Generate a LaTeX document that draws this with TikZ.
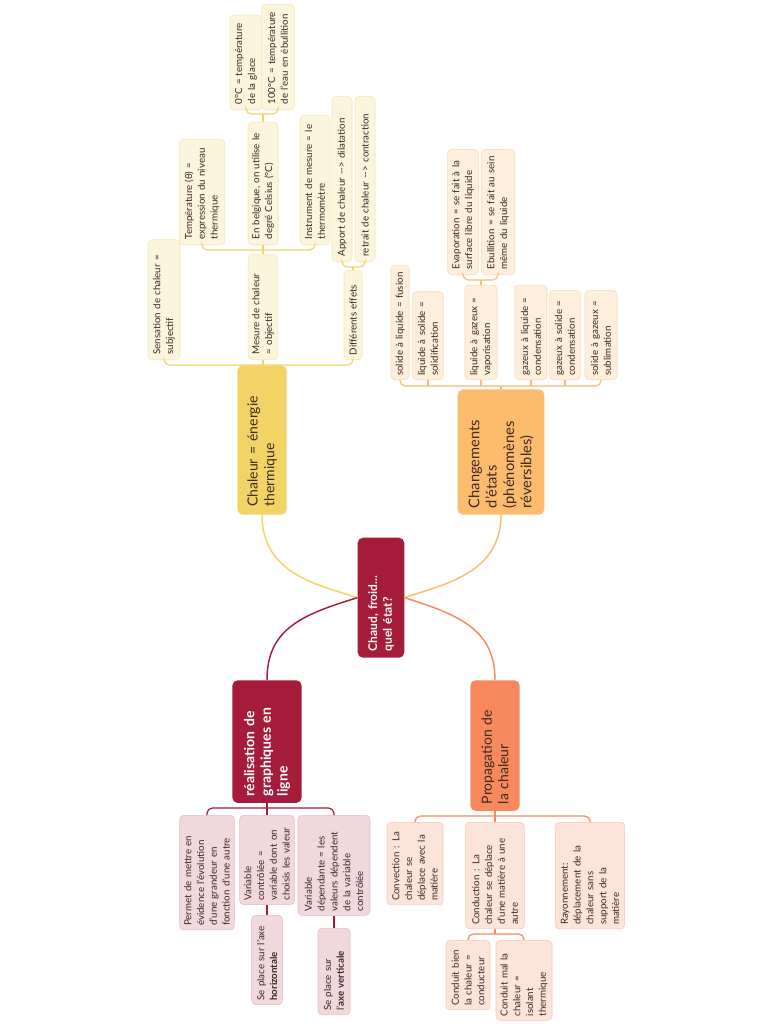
\documentclass[tikz,border=0pt]{standalone}
\usepackage{fontspec}
\setmainfont{Lato}
\definecolor{cyel}{HTML}{F2D466}
\definecolor{cyelL}{HTML}{FBF5DD}
\definecolor{cyelE}{HTML}{F5E6B0}
\definecolor{cor}{HTML}{FDBB6E}
\definecolor{corL}{HTML}{FEEEDC}
\definecolor{corE}{HTML}{FAD9B5}
\definecolor{cred}{HTML}{A41C3A}
\definecolor{credL}{HTML}{F0D8DC}
\definecolor{credE}{HTML}{E6BCC4}
\definecolor{ccor}{HTML}{F8895C}
\definecolor{ccorL}{HTML}{FDE4DA}
\definecolor{ccorE}{HTML}{F8C6B4}
\definecolor{ctxt}{HTML}{3A2A20}
\tikzset{
  x=0.75pt,y=-0.75pt,
  bx/.style={rotate=90,rounded corners=3pt,align=left,inner sep=3pt,
    font=\fontsize{7.3}{9.6}\selectfont,text=ctxt},
  up/.style={bx,anchor=west},
  dn/.style={bx,anchor=east},
  yb/.style={fill=cyelL,draw=cyelE,line width=0.4pt},
  ob/.style={fill=corL,draw=corE,line width=0.4pt},
  rb/.style={fill=credL,draw=credE,line width=0.4pt},
  cb/.style={fill=ccorL,draw=ccorE,line width=0.4pt},
  main/.style={rotate=90,rounded corners=4pt,align=left,inner sep=5pt},
  yl/.style={draw=cyel,line width=0.9pt,rounded corners=4pt},
  ol/.style={draw=cor,line width=0.9pt,rounded corners=4pt},
  rl/.style={draw=cred,line width=0.9pt,rounded corners=4pt},
  cl/.style={draw=ccor,line width=0.9pt,rounded corners=4pt},
}
\begin{document}
\begin{tikzpicture}
\useasboundingbox[fill=white] (0,0) rectangle (768,1024);
% main
\node[main,anchor=west,fill=cred,text=white,minimum width=90pt,minimum height=35pt,text width=80pt,font=\fontsize{9}{11}\selectfont\bfseries] (cen) at (381,658) {Chaud, froid...\\quel état?};
\node[main,anchor=west,fill=cyel,text=ctxt,minimum width=112pt,minimum height=37pt,text width=100pt,font=\fontsize{10.5}{12.5}\selectfont] (chal) at (262,515) {Chaleur = énergie\\thermique};
\node[main,anchor=west,fill=cor,text=ctxt,minimum width=94pt,minimum height=65pt,text width=84pt,font=\fontsize{11}{13}\selectfont] (chg) at (501,515) {Changements\\d'états\\(phénomènes\\réversibles)};
\node[main,anchor=east,fill=cred,text=white,minimum width=90pt,minimum height=52pt,text width=82pt,font=\fontsize{10.5}{12.5}\selectfont\bfseries] (real) at (267,680) {réalisation de\\graphiques en\\ligne};
\node[main,anchor=east,fill=ccor,text=ctxt,minimum width=97pt,minimum height=37pt,text width=88pt,font=\fontsize{10.5}{12.5}\selectfont] (prop) at (495,680) {Propagation de\\la chaleur};
% main connectors
\draw[cyel,line width=1.1pt] (chal.west) .. controls (262,575) and (320,585) .. (cen.north);
\draw[cor,line width=1.1pt] (chg.west) .. controls (501,575) and (440,585) .. (cen.south);
\draw[cred,line width=1.1pt] (cen.north) .. controls (300,615) and (267,630) .. (real.east);
\draw[ccor,line width=1.1pt] (cen.south) .. controls (460,615) and (495,630) .. (prop.east);
% Chaleur children
\node[up,yb,minimum width=90pt,minimum height=24pt,text width=82pt] (sens) at (164,360) {Sensation de chaleur =\\subjectif};
\node[up,yb,minimum width=79pt,minimum height=22pt,text width=71pt] (mes) at (263,360) {Mesure de chaleur\\= objectif};
\node[up,yb,minimum width=67pt,minimum height=13.5pt,text width=60pt] (eff) at (353,360) {Différents effets};
\draw[yl] (sens.west) -- (sens.west|-0,365) -- (eff.west|-0,365) -- (eff.west);
\draw[yl] (mes.west) -- (mes.west|-0,365);
\draw[yl] (chal.east) -- (chal.east|-0,365);
\node[up,yb,minimum width=79pt,minimum height=34pt,text width=71pt] (temp) at (202,245) {Température (θ) =\\expression du niveau\\thermique};
\node[up,yb,minimum width=92pt,minimum height=22.5pt,text width=84pt] (belg) at (263,245) {En belgique, on utilise le\\degré Celsius (°C)};
\node[up,yb,minimum width=97pt,minimum height=22.5pt,text width=89pt] (instr) at (315,245) {Instrument de mesure = le\\thermomètre};
\draw[yl] (temp.west) -- (temp.west|-0,250) -- (instr.west|-0,250) -- (instr.west);
\draw[yl] (belg.west) -- (mes.east);
\node[up,yb,minimum width=71pt,minimum height=24pt,text width=63pt] (zero) at (246,110) {0°C = température\\de la glace};
\node[up,yb,minimum width=79pt,minimum height=25pt,text width=71pt] (cent) at (278,110) {100°C = température\\de l'eau en ébullition};
\draw[yl] (zero.west) -- (zero.west|-0,114) -- (cent.west|-0,114) -- (cent.west);
\draw[yl] (belg.east) -- (belg.east|-0,114);
\node[up,yb,minimum width=124pt,minimum height=15pt,text width=116pt] (app) at (342,262) {Apport de chaleur -{}-> dilatation};
\node[up,yb,minimum width=124pt,minimum height=15pt,text width=116pt] (ret) at (365,262) {retrait de chaleur -{}-> contraction};
\draw[yl] (app.west) -- (app.west|-0,267) -- (ret.west|-0,267) -- (ret.west);
\draw[yl] (eff.east) -- (eff.east|-0,267);
% Changements children
\node[up,ob,minimum width=86pt,minimum height=13.5pt,text width=80pt] (f1) at (400,380) {solide à liquide = fusion};
\node[up,ob,minimum width=66pt,minimum height=23pt,text width=60pt] (f2) at (428,380) {liquide à solide =\\solidification};
\node[up,ob,minimum width=71pt,minimum height=24pt,text width=65pt] (f3) at (481,380) {liquide à gazeux =\\vaporisation};
\node[up,ob,minimum width=71pt,minimum height=24pt,text width=65pt] (f4) at (531,380) {gazeux à liquide =\\condensation};
\node[up,ob,minimum width=67pt,minimum height=23pt,text width=61pt] (f5) at (565,380) {gazeux à solide =\\condensation};
\node[up,ob,minimum width=67pt,minimum height=24pt,text width=61pt] (f6) at (601,380) {solide à gazeux =\\sublimation};
\draw[ol] (f1.west) -- (f1.west|-0,386) -- (f6.west|-0,386) -- (f6.west);
\foreach \n in {f2,f3,f4,f5} \draw[ol] (\n.west) -- (\n.west|-0,386);
\draw[ol] (chg.east) -- (chg.east|-0,386);
\node[up,ob,minimum width=94pt,minimum height=23pt,text width=86pt] (evap) at (463,275) {Evaporation = se fait à la\\surface libre du liquide};
\node[up,ob,minimum width=94pt,minimum height=25pt,text width=86pt] (ebul) at (498,275) {Ebullition = se fait au sein\\même du liquide};
\draw[ol] (evap.west) -- (evap.west|-0,280) -- (ebul.west|-0,280) -- (ebul.west);
\draw[ol] (f3.east) -- (f3.east|-0,280);
% réalisation children
\node[dn,rb,minimum width=86pt,minimum height=41pt,text width=80pt] (perm) at (207,815) {Permet de mettre en\\évidence l'évolution\\d'une grandeur en\\fonction d'une autre};
\node[dn,rb,minimum width=67pt,minimum height=41pt,text width=61pt] (varc) at (267,815) {Variable\\contrôlée =\\variable dont on\\choisis les valeur};
\node[dn,rb,minimum width=75pt,minimum height=54pt,text width=69pt] (vard) at (334,815) {Variable\\dépendante = les\\valeurs dépendent\\de la variable\\contrôlée};
\draw[rl] (perm.east) -- (perm.east|-0,808) -- (vard.east|-0,808) -- (vard.east);
\draw[rl] (real.west) -- (varc.east);
\node[dn,rb,minimum width=67pt,minimum height=23pt,text width=61pt] (hor) at (267,915) {Se place sur l'axe\\\textbf{horizontale}};
\node[dn,rb,minimum width=65pt,minimum height=24pt,text width=59pt] (ver) at (334,928) {Se place sur\\l'\textbf{axe verticale}};
\draw[rl] (varc.west) -- (hor.east);
\draw[rl] (vard.west) -- (ver.east);
% Propagation children
\node[dn,cb,minimum width=62pt,minimum height=42pt,text width=56pt] (conv) at (415,822) {Convection : La\\chaleur se\\déplace avec la\\matière};
\node[dn,cb,minimum width=80pt,minimum height=44pt,text width=74pt] (cond) at (495,822) {Conduction : La\\chaleur se déplace\\d'une matière à une\\autre};
\node[dn,cb,minimum width=80pt,minimum height=52pt,text width=74pt] (ray) at (590,822) {Rayonnement:\\déplacement de la\\chaleur sans\\support de la\\matière};
\draw[cl] (conv.east) -- (conv.east|-0,816) -- (ray.east|-0,816) -- (ray.east);
\draw[cl] (prop.west) -- (cond.east);
\node[dn,cb,minimum width=52pt,minimum height=33pt,text width=46pt] (bien) at (468,940) {Conduit bien\\la chaleur =\\conducteur};
\node[dn,cb,minimum width=60pt,minimum height=42pt,text width=54pt] (mal) at (524,940) {Conduit mal la\\chaleur =\\isolant\\thermique};
\draw[cl] (bien.east) -- (bien.east|-0,934) -- (mal.east|-0,934) -- (mal.east);
\draw[cl] (cond.west) -- (cond.west|-0,934);
\end{tikzpicture}
\end{document}
